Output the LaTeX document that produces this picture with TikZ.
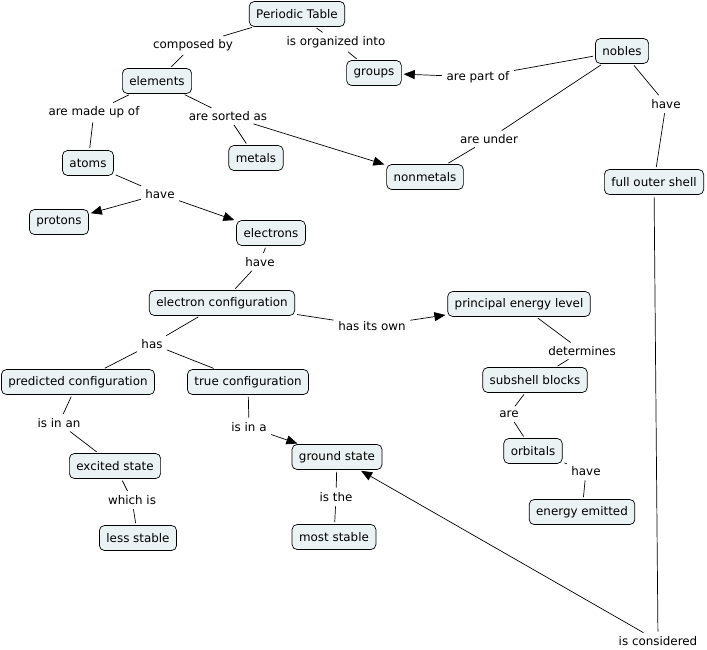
\documentclass[tikz,border=0pt]{standalone}
\usepackage{fontspec}
\setmainfont{DejaVu Sans}
\usetikzlibrary{arrows.meta}
\definecolor{cfill}{RGB}{235,242,243}
\begin{document}
\begin{tikzpicture}[x=1pt,y=-1pt,
  every node/.style={font=\fontsize{11.9}{13}\selectfont},
  concept/.style={draw, rounded corners=5pt, fill=cfill, minimum height=25pt, inner xsep=7pt, inner ysep=2pt, line width=0.7pt},
  lbl/.style={inner sep=2.5pt},
  ln/.style={line width=0.7pt, shorten <=2pt, shorten >=2pt},
  arr/.style={line width=0.7pt, shorten <=2pt, shorten >=2pt, -{Triangle[length=11pt,width=9pt]}}]
\useasboundingbox (0,0) rectangle (707,649);
% concepts
\node[concept] (pt) at (297,14) {Periodic Table};
\node[concept] (groups) at (374,73) {groups};
\node[concept] (elements) at (157,81) {elements};
\node[concept] (nobles) at (622,51) {nobles};
\node[concept] (atoms) at (88,163) {atoms};
\node[concept] (metals) at (256,158) {metals};
\node[concept] (nonmetals) at (425,177) {nonmetals};
\node[concept] (fos) at (654,182) {full outer shell};
\node[concept] (protons) at (59,222) {protons};
\node[concept] (electrons) at (271,233) {electrons};
\node[concept] (ec) at (222,303) {electron configuration};
\node[concept] (pel) at (519,304) {principal energy level};
\node[concept] (pc) at (78,382) {predicted configuration};
\node[concept] (tc) at (248,382) {true configuration};
\node[concept] (sb) at (535,380) {subshell blocks};
\node[concept] (orb) at (533,451) {orbitals};
\node[concept] (es) at (115,466) {excited state};
\node[concept] (gs) at (337,457) {ground state};
\node[concept] (ee) at (582,512) {energy emitted};
\node[concept] (ls) at (138,538) {less stable};
\node[concept] (ms) at (334,537) {most stable};
% labels
\node[lbl] (l1) at (193,45) {composed by};
\node[lbl] (l2) at (336,42) {is organized into};
\node[lbl] (l3) at (478,77) {are part of};
\node[lbl] (l4) at (94,112) {are made up of};
\node[lbl] (l5) at (228,116) {are sorted as};
\node[lbl] (l6) at (489,139) {are under};
\node[lbl] (l7) at (666,104) {have};
\node[lbl] (l8) at (160,194) {have};
\node[lbl] (l9) at (260,262) {have};
\node[lbl] (l10) at (372,326) {has its own};
\node[lbl] (l11) at (152,344) {has};
\node[lbl] (l12) at (582,351) {determines};
\node[lbl] (l13) at (59,423) {is in an};
\node[lbl] (l14) at (249,427) {is in a};
\node[lbl] (l15) at (509,414) {are};
\node[lbl] (l16) at (586,471) {have};
\node[lbl] (l17) at (132,500) {which is};
\node[lbl] (l18) at (336,497) {is the};
\node[lbl] (l19) at (658,641) {is considered};
% connectors
\draw[ln] (pt) -- (l1); \draw[ln] (l1) -- (elements);
\draw[ln] (pt) -- (l2); \draw[ln] (l2) -- (groups);
\draw[ln] (nobles) -- (l3); \draw[arr] (l3) -- (groups);
\draw[ln] (elements) -- (l4); \draw[ln] (l4) -- (atoms);
\draw[ln] (elements) -- (l5); \draw[ln] (l5) -- (metals); \draw[arr] (l5) -- (nonmetals);
\draw[ln] (nobles) -- (l6); \draw[ln] (l6) -- (nonmetals);
\draw[ln] (nobles) -- (l7); \draw[ln] (l7) -- (fos);
\draw[ln] (atoms) -- (l8); \draw[arr] (l8) -- (protons); \draw[arr] (l8) -- (electrons);
\draw[ln] (electrons) -- (l9); \draw[ln] (l9) -- (ec);
\draw[ln] (ec) -- (l10); \draw[arr] (l10) -- (pel);
\draw[ln] (ec) -- (l11); \draw[ln] (l11) -- (pc); \draw[ln] (l11) -- (tc);
\draw[ln] (pel) -- (l12); \draw[ln] (l12) -- (sb);
\draw[ln] (pc) -- (l13); \draw[ln] (l13) -- (es);
\draw[ln] (tc) -- (l14); \draw[arr] (l14) -- (gs);
\draw[ln] (sb) -- (l15); \draw[ln] (l15) -- (orb);
\draw[ln] (orb) -- (l16); \draw[ln] (l16) -- (ee);
\draw[ln] (es) -- (l17); \draw[ln] (l17) -- (ls);
\draw[ln] (gs) -- (l18); \draw[ln] (l18) -- (ms);
\draw[ln] (fos) -- (l19); \draw[arr] (l19) -- (gs);
\end{tikzpicture}
\end{document}
